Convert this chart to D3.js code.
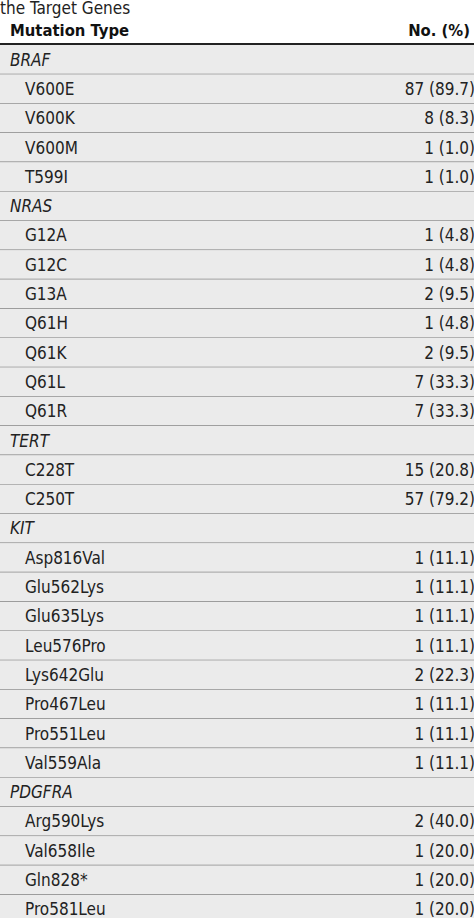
<!DOCTYPE html>
<html><head><meta charset="utf-8">
<script src="https://cdn.jsdelivr.net/npm/d3@7"></script>
<style>body{margin:0;background:#fff;overflow:hidden}</style>
</head><body>
<script>
const genes = ["BRAF","NRAS","TERT","KIT","PDGFRA"];
const mutations = [
 ["V600E","V600K","V600M","T599I"],
 ["G12A","G12C","G13A","Q61H","Q61K","Q61L","Q61R"],
 ["C228T","C250T"],
 ["Asp816Val","Glu562Lys","Glu635Lys","Leu576Pro","Lys642Glu","Pro467Leu","Pro551Leu","Val559Ala"],
 ["Arg590Lys","Val658Ile","Gln828*","Pro581Leu"]
];
const counts = [[87,8,1,1],[1,1,2,1,2,7,7],[15,57],[1,1,1,1,2,1,1,1],[2,1,1,1]];
const percents = [["89.7","8.3","1.0","1.0"],["4.8","4.8","9.5","4.8","9.5","33.3","33.3"],["20.8","79.2"],["11.1","11.1","11.1","11.1","22.3","11.1","11.1","11.1"],["40.0","20.0","20.0","20.0"]];

const rows=[];
genes.forEach((g,i)=>{rows.push({label:g,gene:true});mutations[i].forEach((m,j)=>rows.push({label:m,val:`${counts[i][j]} (${percents[i][j]})`}));});

const W=474,H=918,top0=45,rh=29.3;
const font="'Liberation Sans Narrow','DejaVu Sans Condensed','Roboto Condensed',sans-serif";
const svg=d3.select("body").append("svg").attr("width",W).attr("height",H);
const y=d3.scaleBand().domain(d3.range(rows.length)).range([top0,top0+rh*rows.length]);
svg.append("text").attr("x",0).attr("y",14).attr("font-family",font).attr("font-size",17).attr("fill","#222").text("the Target Genes");
svg.append("text").attr("x",10).attr("y",36).attr("font-family",font).attr("font-size",16.5).attr("font-weight","bold").attr("fill","#111").text("Mutation Type");
svg.append("text").attr("x",470).attr("y",36).attr("text-anchor","end").attr("font-family",font).attr("font-size",16.5).attr("font-weight","bold").attr("fill","#111").text("No. (%)");
const g=svg.selectAll("g.r").data(rows).join("g").attr("transform",(d,i)=>`translate(0,${y(i)})`);
g.append("rect").attr("width",W).attr("height",rh).attr("fill","#ebebeb");
g.append("line").attr("x1",0).attr("x2",W).attr("y1",rh).attr("y2",rh).attr("stroke","#7a7a7a").attr("stroke-width",1.2);
g.append("text").attr("x",d=>d.gene?10:25).attr("y",rh/2+6).attr("font-family",font).attr("font-size",17)
 .attr("font-style",d=>d.gene?"italic":"normal").attr("fill","#222").text(d=>d.label);
g.filter(d=>!d.gene).append("text").attr("x",475).attr("y",rh/2+6).attr("text-anchor","end").attr("font-family",font).attr("font-size",17).attr("fill","#222").text(d=>d.val);
svg.append("line").attr("x1",0).attr("x2",W).attr("y1",top0-1).attr("y2",top0-1).attr("stroke","#222").attr("stroke-width",2);
</script></body></html>
